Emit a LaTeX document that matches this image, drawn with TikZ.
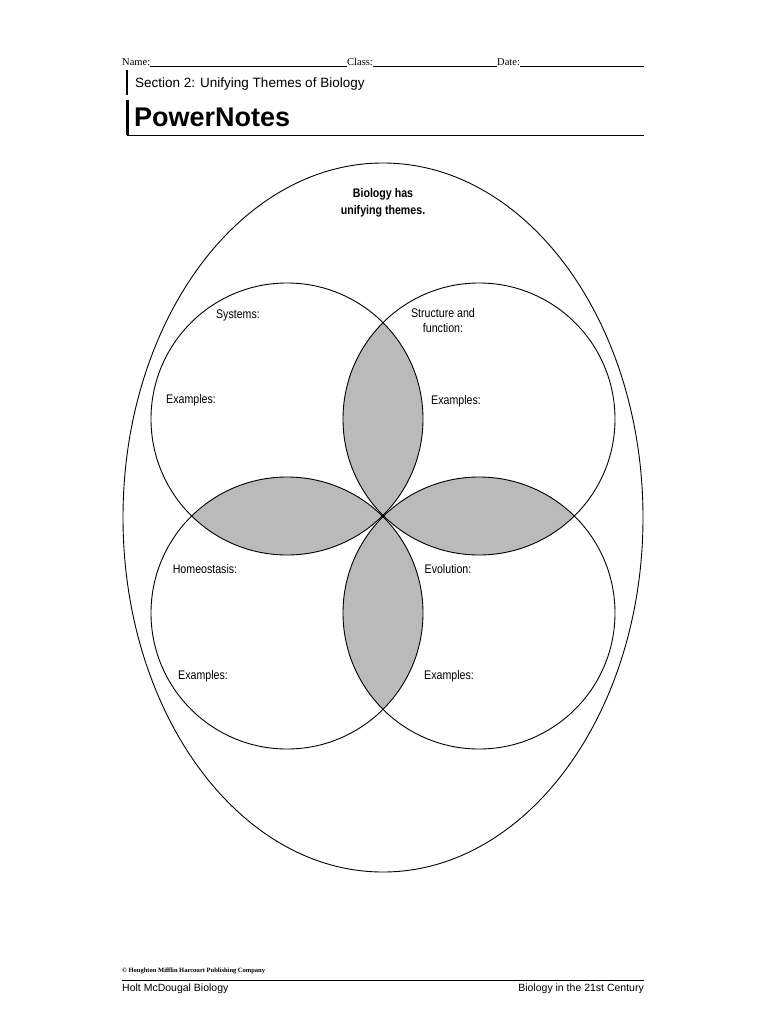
\documentclass[tikz,border=0pt]{standalone}
\usepackage{fontspec}
\setmainfont{Liberation Serif}
\newfontfamily\narrowsans[FakeStretch=0.85]{Liberation Sans}
\newfontfamily\plainsans{Liberation Sans}
\begin{document}
\begin{tikzpicture}[x=1pt,y=-1pt,
  lbl/.style={font=\narrowsans\fontsize{12.5}{15}\selectfont,align=center},
  ring/.style={draw,line width=0.9pt},
  lensfill/.style={fill=black!27}]
\useasboundingbox[fill=white] (0,0) rectangle (768,1024);
% header
\node[anchor=base west,inner sep=0,font=\fontsize{10.5}{12}\selectfont] (nm) at (122,66) {Name:};
\node[anchor=base west,inner sep=0,font=\fontsize{10.5}{12}\selectfont] (cl) at (347,66) {Class:};
\node[anchor=base west,inner sep=0,font=\fontsize{10.5}{12}\selectfont] (dt) at (497,66) {Date:};
\draw[line width=0.6pt] (nm.base east) -- (cl.base west);
\draw[line width=0.6pt] (cl.base east) -- (dt.base west);
\draw[line width=0.6pt] (dt.base east) -- (644,66);
\draw[line width=2.5pt] (127,70) -- (127,95);
\node[anchor=west,inner sep=0,font=\plainsans\fontsize{13.5}{15}\selectfont] (sec) at (135,84) {Section 2: Unifying Themes of Biology};
\draw[line width=3pt] (127,100) -- (127,135);
\node[anchor=west,inner sep=0,font=\plainsans\bfseries\fontsize{27}{30}\selectfont] (pn) at (134,117) {PowerNotes};
\draw[line width=0.7pt] (127,135) -- (644,135);
% big ellipse
\draw[ring] (383,517.5) ellipse [x radius=260, y radius=354.5];
\node[lbl,font=\narrowsans\bfseries\fontsize{12.5}{17}\selectfont] (title) at (383,203) {Biology has\\unifying themes.};
% lenses
\def\rr{136}
\coordinate (tl) at (287,419);
\coordinate (tr) at (479,419);
\coordinate (bl) at (287,613);
\coordinate (br) at (479,613);
\begin{scope}\clip (tl) circle (\rr); \fill[lensfill] (tr) circle (\rr); \end{scope}
\begin{scope}\clip (tl) circle (\rr); \fill[lensfill] (bl) circle (\rr); \end{scope}
\begin{scope}\clip (tr) circle (\rr); \fill[lensfill] (br) circle (\rr); \end{scope}
\begin{scope}\clip (bl) circle (\rr); \fill[lensfill] (br) circle (\rr); \end{scope}
\draw[ring] (tl) circle (\rr);
\draw[ring] (tr) circle (\rr);
\draw[ring] (bl) circle (\rr);
\draw[ring] (br) circle (\rr);
% labels
\node[lbl] (sys) at (238,315) {Systems:};
\node[lbl] (sf) at (443,321) {Structure and\\function:};
\node[lbl] (e1) at (191,400) {Examples:};
\node[lbl] (e2) at (456,401) {Examples:};
\node[lbl] (ho) at (205,569) {Homeostasis:};
\node[lbl] (ev) at (448,569) {Evolution:};
\node[lbl] (e3) at (203,676) {Examples:};
\node[lbl] (e4) at (449,676) {Examples:};
% footer
\node[anchor=base west,inner sep=0,font=\bfseries\fontsize{6.5}{8}\selectfont] (cp) at (122,972) {© Houghton Mifflin Harcourt Publishing Company};
\draw[line width=0.6pt] (122,980) -- (644,980);
\node[anchor=base west,inner sep=0,font=\plainsans\fontsize{10.5}{12}\selectfont] (hm) at (122,991) {Holt McDougal Biology};
\node[anchor=base east,inner sep=0,font=\plainsans\fontsize{10.5}{12}\selectfont] (bc) at (644,991) {Biology in the 21st Century};
\end{tikzpicture}
\end{document}
